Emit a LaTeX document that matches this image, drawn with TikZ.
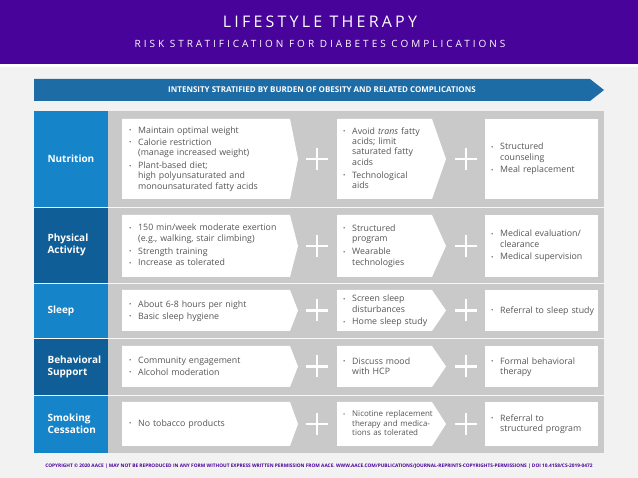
\documentclass[tikz,border=0pt]{standalone}
\usepackage{fontspec}
\setmainfont{Open Sans}
\definecolor{purp}{HTML}{48039A}
\definecolor{bg}{HTML}{F2F2F2}
\definecolor{band}{HTML}{1E6CA6}
\definecolor{lblue}{HTML}{1684C9}
\definecolor{dblue}{HTML}{0F5E97}
\definecolor{tgray}{HTML}{C9C9C9}
\definecolor{txt}{HTML}{555555}
\newcommand\bul[1]{\noindent\makebox[9pt][l]{\raisebox{0.5pt}{\scalebox{0.7}{\textbullet}}}\begin{tabular}[t]{@{}l@{}}#1\end{tabular}\par\vspace{1.5pt}}
\begin{document}
\begin{tikzpicture}[x=1pt,y=-1pt,
  lbl/.style={font=\fontsize{10}{12}\selectfont\bfseries,text=white,align=left,anchor=west},
  tx/.style={font=\fontsize{8.8}{10.4}\selectfont,text=txt,align=left,anchor=west,inner sep=0pt},
  plus/.style={white,line width=2.6pt}]
\useasboundingbox (0,0) rectangle (638,478);
\fill[bg] (0,0) rectangle (638,478);
\fill[purp] (0,0) rectangle (638,64);
\fill[white] (0,64) rectangle (638,67);
\node[font=\fontsize{16}{18}\selectfont\addfontfeatures{LetterSpace=20},text=white] (t1) at (320,22) {LIFESTYLE THERAPY};
\node[font=\fontsize{10}{11}\selectfont\addfontfeatures{LetterSpace=30},text=white] (t2) at (320,44) {RISK STRATIFICATION FOR DIABETES COMPLICATIONS};
\fill[band] (34,79) -- (590,79) -- (604,90) -- (590,101) -- (34,101) -- cycle;
\node[font=\fontsize{8}{9}\selectfont\bfseries,text=white] (bn) at (322,90) {INTENSITY STRATIFIED BY BURDEN OF OBESITY AND RELATED COMPLICATIONS};
\fill[tgray] (34,111) rectangle (604,453);
\fill[lblue] (34,111) rectangle (108,207);
\fill[dblue] (34,208) rectangle (108,283);
\fill[lblue] (34,284) rectangle (108,338);
\fill[dblue] (34,339) rectangle (108,395);
\fill[lblue] (34,396) rectangle (108,453);
\foreach \yy in {207.5,283.5,338.5,395.5} \draw[white!85!tgray,line width=1pt] (34,\yy) -- (604,\yy);
\node[lbl] (l1) at (44,159) {Nutrition};
\node[lbl] (l2) at (44,245) {Physical\\Activity};
\node[lbl] (l3) at (44,311) {Sleep};
\node[lbl] (l4) at (44,367) {Behavioral\\Support};
\node[lbl] (l5) at (44,424) {Smoking\\Cessation};
\foreach \a/\b in {119/199,215/277,290/331,346/387,402/446}{
  \pgfmathsetmacro\m{(\a+\b)/2}
  \fill[white] (122,\a) -- (290,\a) -- (298,\m) -- (290,\b) -- (122,\b) -- cycle;
  \fill[white] (337,\a) -- (432,\a) -- (446,\m) -- (432,\b) -- (337,\b) -- cycle;
  \fill[white] (485,\a) rectangle (598,\b);
  \draw[plus] (306,\m) -- (328,\m) (317,\m-11) -- (317,\m+11);
  \draw[plus] (455,\m) -- (477,\m) (466,\m-11) -- (466,\m+11);
}
\node[tx,text width=165pt] (n1) at (129,160) {\bul{Maintain optimal weight}\bul{Calorie restriction\\(manage increased weight)}\bul{Plant-based diet;\\high polyunsaturated and\\monounsaturated fatty acids}};
\node[tx,text width=95pt] (n2) at (343,160) {\bul{Avoid \emph{trans} fatty\\acids; limit\\saturated fatty\\acids}\bul{Technological\\aids}};
\node[tx,text width=110pt] (n3) at (491,160) {\bul{Structured\\counseling}\bul{Meal replacement}};
\node[tx,text width=165pt] (p1) at (129,247) {\bul{150 min/week moderate exertion\\(e.g., walking, stair climbing)}\bul{Strength training}\bul{Increase as tolerated}};
\node[tx,text width=95pt] (p2) at (343,247) {\bul{Structured\\program}\bul{Wearable\\technologies}};
\node[tx,text width=110pt] (p3) at (491,247) {\bul{Medical evaluation/\\clearance}\bul{Medical supervision}};
\node[tx,text width=165pt] (s1) at (129,312) {\bul{About 6-8 hours per night}\bul{Basic sleep hygiene}};
\node[tx,text width=95pt] (s2) at (343,312) {\bul{Screen sleep\\disturbances}\bul{Home sleep study}};
\node[tx,text width=110pt] (s3) at (491,312) {\bul{Referral to sleep study}};
\node[tx,text width=165pt] (b1) at (129,368) {\bul{Community engagement}\bul{Alcohol moderation}};
\node[tx,text width=95pt] (b2) at (343,368) {\bul{Discuss mood\\with HCP}};
\node[tx,text width=110pt] (b3) at (491,368) {\bul{Formal behavioral\\therapy}};
\node[tx,text width=165pt] (c1) at (129,425) {\bul{No tobacco products}};
\node[tx,text width=95pt,font=\fontsize{8}{9.4}\selectfont] (c2) at (343,425) {\bul{Nicotine replacement\\therapy and medica-\\tions as tolerated}};
\node[tx,text width=110pt] (c3) at (491,425) {\bul{Referral to\\structured program}};
\node[font=\fontsize{4.8}{5}\selectfont\bfseries,text=purp] (ft) at (319,466) {COPYRIGHT © 2020 AACE \textbar{} MAY NOT BE REPRODUCED IN ANY FORM WITHOUT EXPRESS WRITTEN PERMISSION FROM AACE. WWW.AACE.COM/PUBLICATIONS/JOURNAL-REPRINTS-COPYRIGHTS-PERMISSIONS \textbar{} DOI 10.4158/CS-2019-0472};
\end{tikzpicture}
\end{document}
